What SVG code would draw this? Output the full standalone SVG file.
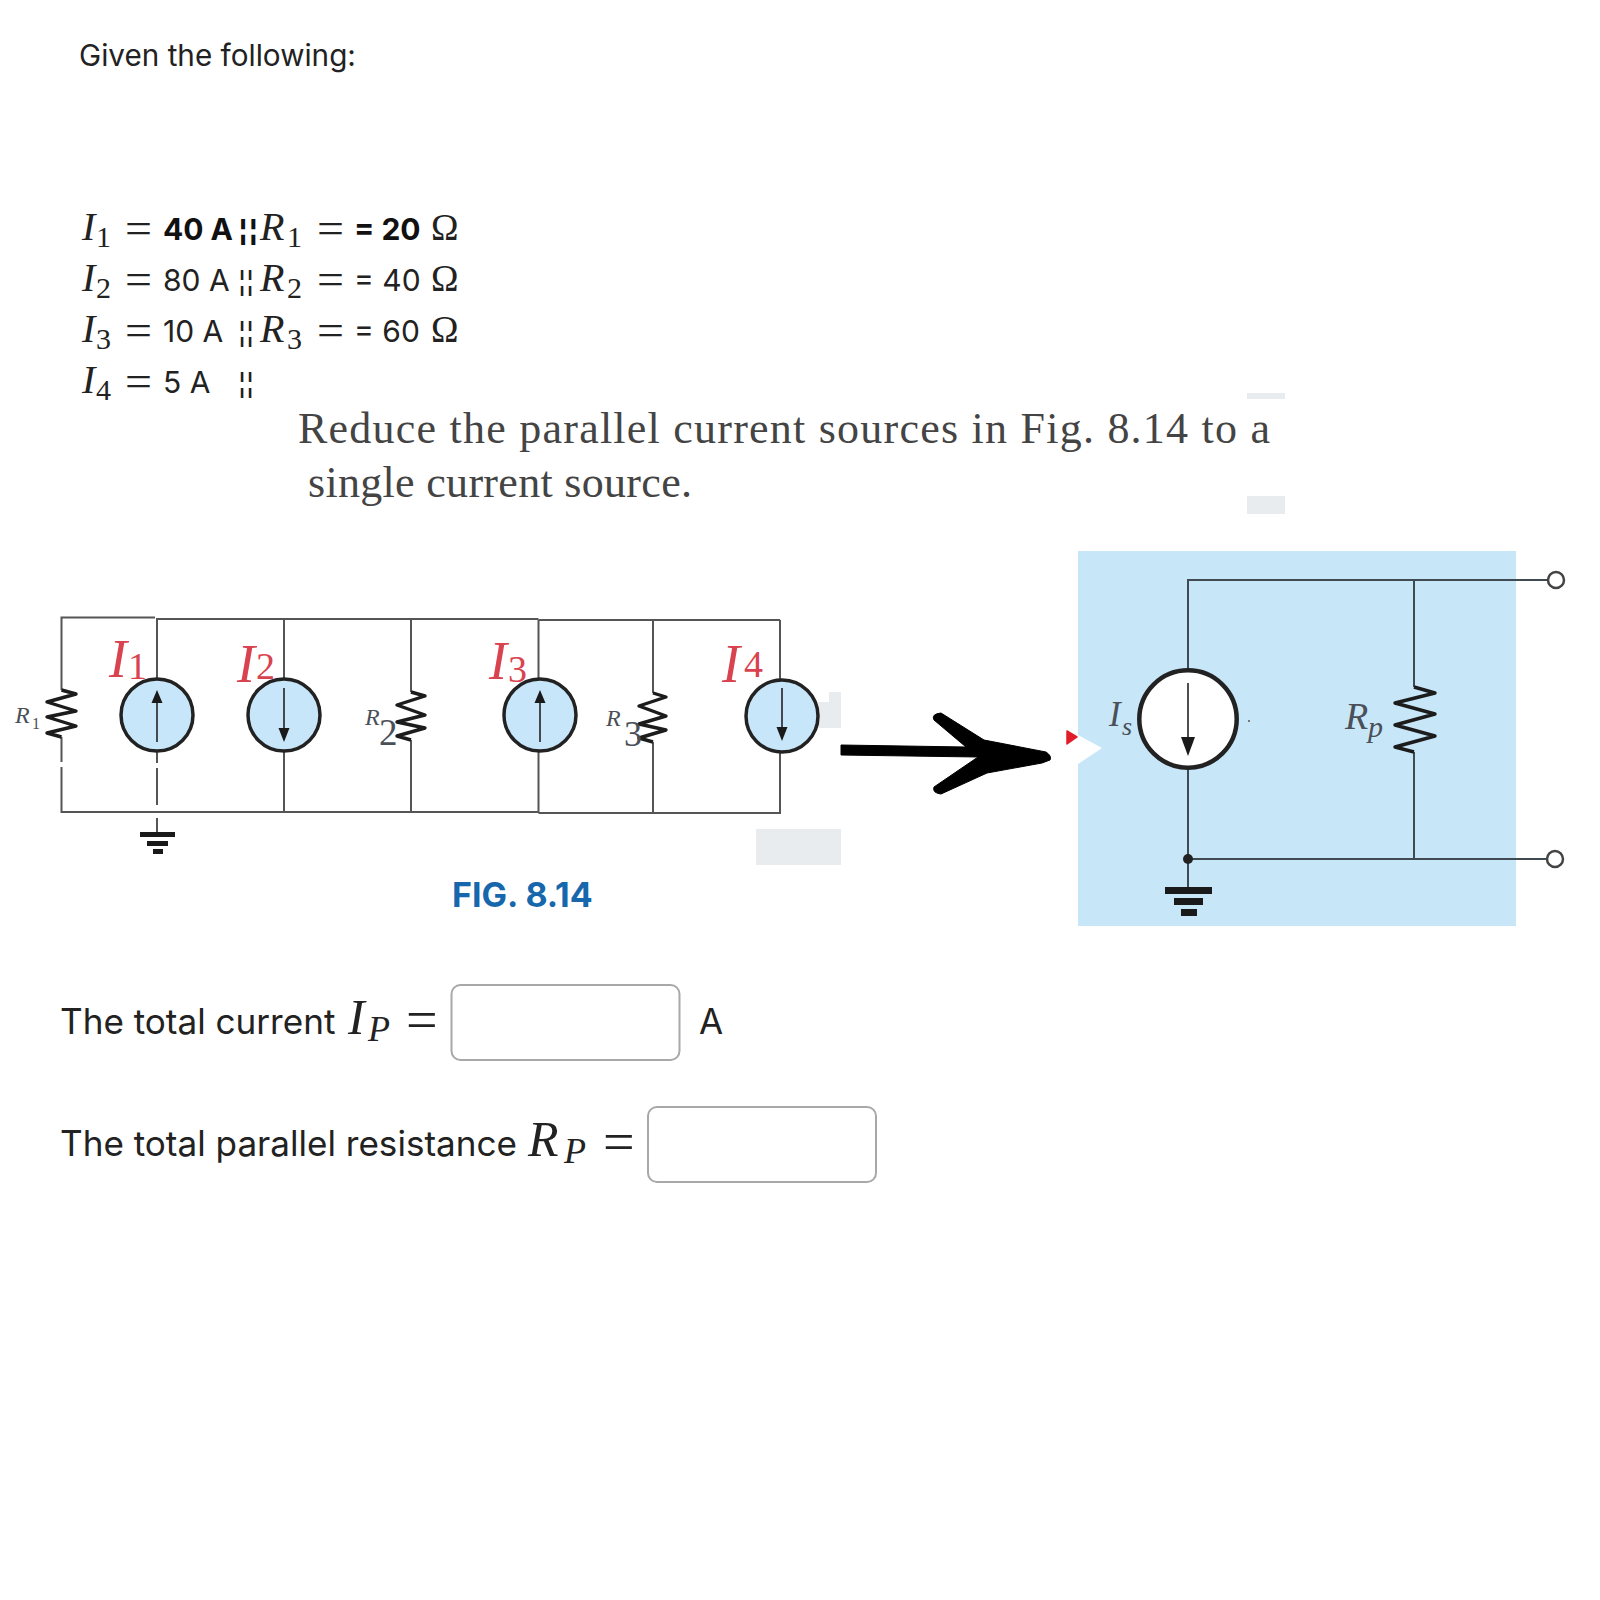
<svg xmlns="http://www.w3.org/2000/svg" width="1600" height="1600" viewBox="0 0 1600 1600">
<style>
.s{font-family:"Inter","Liberation Sans",sans-serif;fill:#222}
.b{font-weight:700;fill:#111}
.m{font-family:"Liberation Serif","Times New Roman",serif;fill:#222}
.i{font-style:italic}
.red{fill:#d9434f}
.lab{font-family:"Liberation Serif",serif;fill:#4a4f58}
.w{fill:none;stroke:#555;stroke-width:2}
.w2{fill:none;stroke:#3f4a52;stroke-width:2}
.z{fill:none;stroke:#1c1c1c;stroke-width:3.400;stroke-linejoin:round}
.src{fill:#c7e6f9;stroke:#222;stroke-width:3.500}
.arr{stroke:#222;stroke-width:1.600;fill:none}
.blk{fill:#1a1a1a}
.patch{fill:#e9ecef}
.box{fill:#fff;stroke:#a8a8a8;stroke-width:2}
.eq{font-size:44px}
.om{font-size:37px}
</style>
<rect width="1600" height="1600" fill="#fff"/>
<text class="s" x="79" y="66" font-size="29.700">Given the following:</text>
<g id="givens">
<g font-size="40">
<text class="m i" x="82" y="240">I</text><text class="m i" x="82" y="291">I</text><text class="m i" x="82" y="342">I</text><text class="m i" x="82" y="393">I</text>
<text class="m i" x="260" y="240">R</text><text class="m i" x="260" y="291">R</text><text class="m i" x="260" y="342">R</text>
<text class="m eq" x="125" y="243" textLength="27" lengthAdjust="spacingAndGlyphs">=</text><text class="m eq" x="125" y="294" textLength="27" lengthAdjust="spacingAndGlyphs">=</text><text class="m eq" x="125" y="345" textLength="27" lengthAdjust="spacingAndGlyphs">=</text><text class="m eq" x="125" y="396" textLength="27" lengthAdjust="spacingAndGlyphs">=</text>
<text class="m eq" x="317" y="243" textLength="27" lengthAdjust="spacingAndGlyphs">=</text><text class="m eq" x="317" y="294" textLength="27" lengthAdjust="spacingAndGlyphs">=</text><text class="m eq" x="317" y="345" textLength="27" lengthAdjust="spacingAndGlyphs">=</text>
<text class="m om" x="431" y="240">Ω</text><text class="m om" x="431" y="291">Ω</text><text class="m om" x="431" y="342">Ω</text>
</g>
<g font-size="30">
<text class="m" x="96" y="247">1</text><text class="m" x="96" y="298">2</text><text class="m" x="96" y="349">3</text><text class="m" x="96" y="400">4</text>
<text class="m" x="287" y="247">1</text><text class="m" x="287" y="298">2</text><text class="m" x="287" y="349">3</text>
</g>
<g font-size="30">
<text class="s b" x="163" y="240">40 A</text><text class="s" x="163" y="291">80 A</text><text class="s" x="163" y="342">10 A</text><text class="s" x="163" y="393">5 A</text>
<text class="s b" x="354" y="240">= 20</text><text class="s" x="354" y="291">= 40</text><text class="s" x="354" y="342">= 60</text>
<text class="s b" x="238" y="241">¦¦</text><text class="s" x="238" y="292">¦¦</text><text class="s" x="238" y="343">¦¦</text><text class="s" x="238" y="394">¦¦</text>
</g>
</g>
<g id="problem" font-size="44" style="fill:#444">
<text font-family="Liberation Serif,serif" x="298" y="443" textLength="972" lengthAdjust="spacing">Reduce the parallel current sources in Fig. 8.14 to a</text>
<text font-family="Liberation Serif,serif" x="308" y="497" textLength="384" lengthAdjust="spacing">single current source.</text>
</g>
<g id="patches">
<rect class="patch" x="1247" y="393" width="38" height="6"/>
<rect class="patch" x="1247" y="496" width="38" height="18"/>
<polygon class="patch" points="815,702 829,702 829,692 841,692 841,728 815,728"/>
<rect class="patch" x="756" y="829" width="85" height="36"/>
</g>
<rect id="panel" x="1078" y="551" width="438" height="375" fill="#c7e7f9"/>
<polygon id="notch" points="1078,735 1102,748 1078,764" fill="#fff"/>
<polygon id="marker" points="1067,731 1077,737 1067,744" fill="#e11d2a" stroke="#e11d2a" stroke-width="1.500" stroke-linejoin="round"/>
<g id="connectors">
<path class="w" d="M61.500 690V617.500H155M157 679V619H538.500M538.500 620H780M61.500 737V762M61.500 767V812H538.500M538.500 813H780V752M780 680V620M157 751V763M157 768V805M157 818V833M284 619V679M284 751V812M411 619V692M411 740V812M538.500 620V679M538.500 751V813M653 620V693M653 742V813"/>
<path class="w2" d="M1188 670V580H1547M1414 580V687M1414 752V859M1188 768V887M1188 859H1547"/>
</g>
<g id="R1"><path class="z" d="M61.500 690L76 694L47 702L76 711L47 717L76 726L47 733L61.500 737"/><text class="lab i" x="15" y="723" font-size="24">R</text><text class="lab" x="32" y="729" font-size="16">1</text></g>
<g id="R2"><path class="z" d="M411 692L425 696L397 705L425 715L397 722L425 728L397 736L411 740"/><text class="lab i" x="365" y="725" font-size="24">R</text><text class="lab" x="379" y="745" font-size="37">2</text></g>
<g id="R3"><path class="z" d="M653 693L666 697L639 706L666 716L639 724L666 730L639 738L653 742"/><text class="lab i" x="606" y="726" font-size="24">R</text><text class="lab" x="624" y="746" font-size="36">3</text></g>
<g id="I1"><circle class="src" cx="157" cy="715" r="36"/><path class="arr" d="M157 742V700"/><polygon class="blk" points="157,690 151.500,703 162.500,703"/><text class="m i red" x="109" y="677" font-size="54">I</text><text class="m red" x="128" y="679" font-size="38">1</text></g>
<g id="I2"><circle class="src" cx="284" cy="715" r="36"/><path class="arr" d="M284 688V730"/><polygon class="blk" points="284,742 278.500,728 289.500,728"/><text class="m i red" x="237" y="682" font-size="54">I</text><text class="m red" x="256" y="679" font-size="38">2</text></g>
<g id="I3"><circle class="src" cx="540" cy="715" r="36"/><path class="arr" d="M540 742V700"/><polygon class="blk" points="540,690 534.500,703 545.500,703"/><text class="m i red" x="489" y="679" font-size="54">I</text><text class="m red" x="508" y="682" font-size="38">3</text></g>
<g id="I4"><circle class="src" cx="782" cy="716" r="36"/><path class="arr" d="M782 688V730"/><polygon class="blk" points="782,741 776.500,727 787.500,727"/><text class="m i red" x="722" y="682" font-size="54">I</text><text class="m red" x="744" y="677" font-size="38">4</text></g>
<g id="ground-left"><rect class="blk" x="140" y="832" width="35" height="5"/><rect class="blk" x="147" y="841" width="21" height="5"/><rect class="blk" x="153" y="849" width="10" height="5"/></g>
<path id="big-arrow" d="M841 745L966 747L934 720Q931 714 941 713L984 740L1046 752Q1052 756 1050 760L1042 763L987 773L941 794Q932 793 934 787L978 757L841 755Z" fill="#000" stroke="#000" stroke-width="1" stroke-linejoin="round"/>
<text id="fig" x="452" y="907" font-family="Inter,'Liberation Sans',sans-serif" font-weight="700" font-size="34" fill="#1667ac">FIG. 8.14</text>
<g id="Is"><circle cx="1188" cy="719" r="48.700" fill="#fff" stroke="#222" stroke-width="4.500"/><path class="arr" d="M1188 683V740" stroke-width="2"/><polygon class="blk" points="1188,756 1181,737 1195,737"/><circle cx="1249" cy="721" r="1" fill="#555"/><text class="lab i" x="1109" y="726" font-size="35">I</text><text class="lab i" x="1122" y="735" font-size="26">s</text></g>
<g id="Rp"><path class="z" d="M1414 687L1435 693L1395 703L1435 714L1395 725L1435 736L1395 747L1414 752"/><text class="lab i" x="1345" y="729" font-size="38">R</text><text class="lab i" x="1368" y="737" font-size="30">p</text></g>
<g id="terminals"><circle cx="1556" cy="580" r="8" fill="#fff" stroke="#444" stroke-width="2.500"/><circle cx="1555" cy="859" r="8" fill="#fff" stroke="#444" stroke-width="2.500"/><circle cx="1188" cy="859" r="5" fill="#222"/></g>
<g id="ground-right"><rect class="blk" x="1165" y="887" width="47" height="7"/><rect class="blk" x="1174" y="898" width="29" height="7"/><rect class="blk" x="1181" y="909" width="16" height="7"/></g>
<g id="q1"><text class="s" x="60" y="1034" font-size="35.100">The total current</text><text class="m i" x="348" y="1034" font-size="50">I</text><text class="m i" x="368" y="1041" font-size="36">P</text><text class="m" x="406" y="1039" font-size="56">=</text><rect class="box" x="451.500" y="985" width="228" height="75" rx="9"/><text class="s" x="699" y="1034" font-size="35">A</text></g>
<g id="q2"><text class="s" x="60" y="1156" font-size="35.100">The total parallel resistance</text><text class="m i" x="528" y="1156" font-size="50">R</text><text class="m i" x="564" y="1163" font-size="36">P</text><text class="m" x="603" y="1161" font-size="56">=</text><rect class="box" x="648" y="1107" width="228" height="75" rx="9"/></g>
</svg>
